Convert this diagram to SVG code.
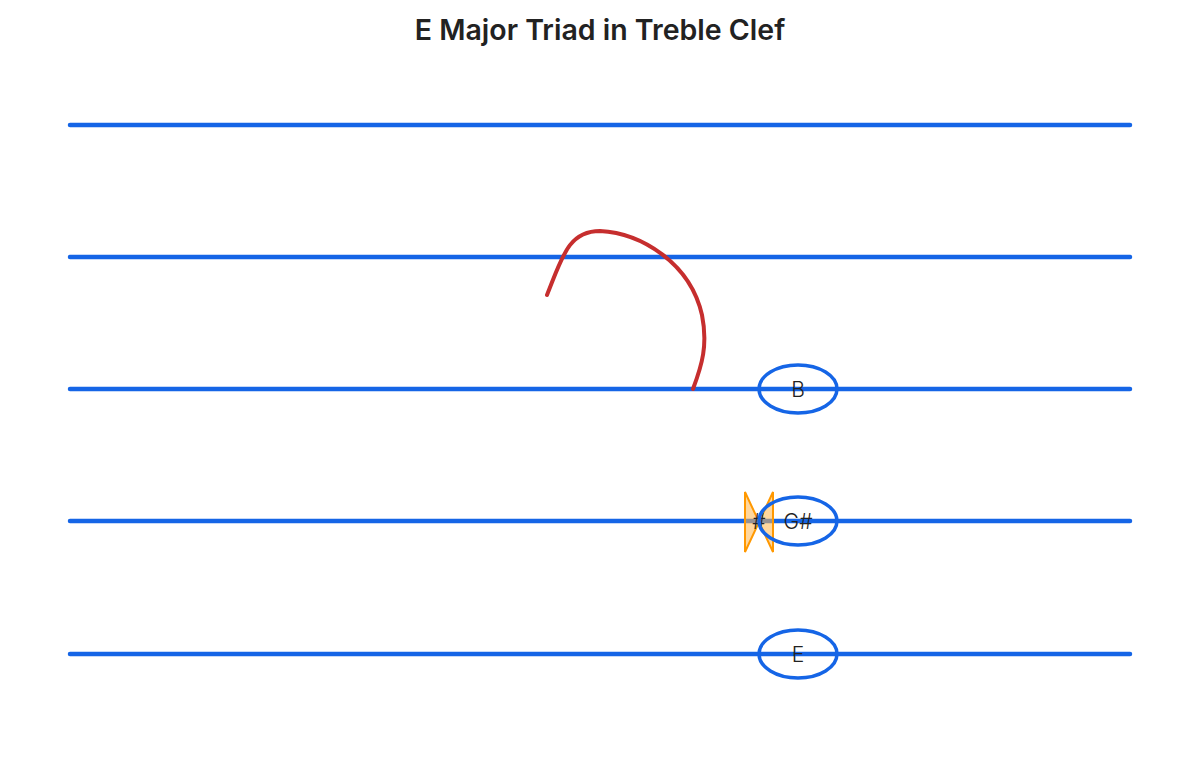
<svg xmlns="http://www.w3.org/2000/svg" width="1200" height="763" viewBox="0 0 1200 763">
<style>
.staff{stroke:#1565e6;stroke-width:4.5;stroke-linecap:round;fill:none}
.note{fill:none;stroke:#1565e6;stroke-width:3.5}
.lbl{font-family:"Inter","Liberation Sans",Arial,sans-serif;font-size:21px;font-weight:300;fill:#222;text-anchor:middle;dominant-baseline:central}
.title{font-family:"Inter","Liberation Sans",sans-serif;font-size:28.5px;font-weight:600;fill:#222;text-anchor:middle}
</style>
<rect width="1200" height="763" fill="#fff"/>
<text class="title" x="600" y="40">E Major Triad in Treble Clef</text>
<g id="staff">
<line class="staff" x1="70" y1="125" x2="1130" y2="125"/>
<line class="staff" x1="70" y1="257" x2="1130" y2="257"/>
<line class="staff" x1="70" y1="389" x2="1130" y2="389"/>
<line class="staff" x1="70" y1="521" x2="1130" y2="521"/>
<line class="staff" x1="70" y1="654" x2="1130" y2="654"/>
</g>
<g id="clef">
<path d="M547,295 C562,258 568,231 600,231 C640,233 690,262 702,315 C708,345 702,365 693,389" fill="none" stroke="#c62e2e" stroke-width="4" stroke-linecap="round"/>
</g>
<g id="sharp">
<polygon points="745,492 759,522 773,492 773,552 759,522 745,552" fill="#ffb74d" fill-opacity="0.55" stroke="#ff9800" stroke-width="2"/>
<text class="lbl" x="759" y="521">#</text>
</g>
<g id="note-B">
<ellipse class="note" cx="798" cy="389" rx="39" ry="24"/>
<text class="lbl" x="798" y="389">B</text>
</g>
<g id="note-Gs">
<ellipse class="note" cx="798" cy="521" rx="39" ry="24"/>
<text class="lbl" x="798" y="521">G#</text>
</g>
<g id="note-E">
<ellipse class="note" cx="798" cy="654" rx="39" ry="24"/>
<text class="lbl" x="798" y="654">E</text>
</g>
</svg>
